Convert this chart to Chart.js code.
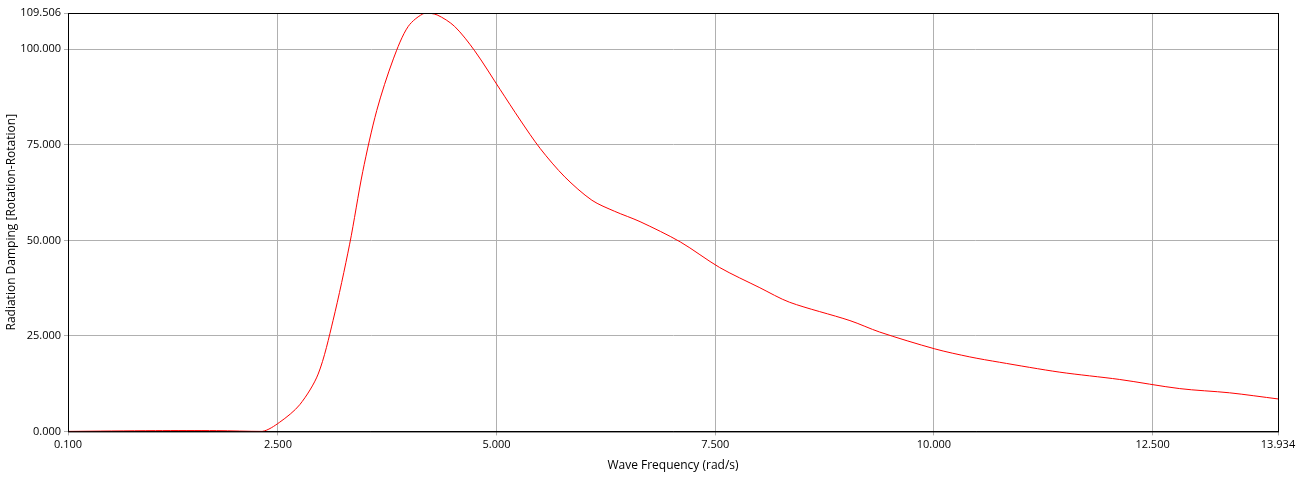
<!DOCTYPE html>
<html>
<head>
<meta charset="utf-8">
<script src="https://cdn.jsdelivr.net/npm/chart.js@4/dist/chart.umd.min.js"></script>
<style>
  html, body { margin: 0; padding: 0; background: #fff; }
  #wrap { width: 1306px; height: 477px; }
</style>
</head>
<body>
<div id="wrap"><canvas id="c"></canvas></div>
<script>
const freq = [0.1, 1.1, 1.8, 2.32, 2.52, 2.75, 2.96, 3.13, 3.32, 3.47, 3.63, 3.82, 3.99, 4.18, 4.32, 4.52, 4.75, 5.04, 5.27, 5.5, 5.78, 6.09, 6.35, 6.64, 7.1, 7.55, 8.01, 8.35, 9.04, 9.38, 10.01, 10.41, 10.75, 11.44, 12.12, 12.81, 13.38, 13.934];
const damping = [0, 0.2, 0.2, 0, 2.4, 7, 15, 29, 49, 68, 84, 97.5, 106, 109.5, 109, 106, 99.6, 89.5, 81.5, 74, 66.6, 60.5, 57.6, 54.9, 49.6, 42.9, 37.6, 33.8, 29, 26, 21.6, 19.5, 18.1, 15.5, 13.6, 11.2, 10.1, 8.5];
const xTicks = [0.1, 2.5, 5, 7.5, 10, 12.5, 13.934];
const yTicks = [0, 25, 50, 75, 100, 109.506];

const points = freq.map((f, i) => ({ x: f, y: damping[i] }));
const font = { family: "'Open Sans', 'DejaVu Sans', sans-serif", size: 11 };
const grid = { color: '#b0b0b0', borderDash: [3, 3], drawTicks: true, tickLength: 4 };

new Chart(document.getElementById('c'), {
    type: 'line',
    data: {
        datasets: [{
            data: points,
            borderColor: 'red',
            borderWidth: 1,
            pointRadius: 0,
            tension: 0.3,
            fill: false
        }]
    },
    options: {
        responsive: true,
        maintainAspectRatio: false,
        animation: false,
        layout: { padding: { top: 13, right: 28, left: 0, bottom: 0 } },
        plugins: { legend: { display: false }, tooltip: { enabled: false } },
        scales: {
            x: {
                type: 'linear',
                min: 0.1,
                max: 13.934,
                afterBuildTicks: s => { s.ticks = xTicks.map(v => ({ value: v })); },
                ticks: { color: '#000', font, maxRotation: 0, callback: v => v.toFixed(3) },
                grid,
                border: { color: '#000' },
                title: { display: true, text: 'Wave Frequency (rad/s)', color: '#000', font: { ...font, size: 12 } }
            },
            y: {
                min: 0,
                max: 109.506,
                afterBuildTicks: s => { s.ticks = yTicks.map(v => ({ value: v })); },
                afterFit: s => { s.width = 68; },
                ticks: { color: '#000', font, callback: v => v.toFixed(3) },
                grid,
                border: { color: '#000' },
                title: { display: true, text: 'Radiation Damping [Rotation-Rotation]', color: '#000', font: { ...font, size: 12 } }
            }
        }
    },
    plugins: [{
        id: 'frame',
        afterDraw(chart) {
            const { ctx, chartArea: a } = chart;
            ctx.save();
            ctx.strokeStyle = '#000';
            ctx.lineWidth = 1;
            ctx.strokeRect(a.left + 0.5, a.top + 0.5, a.right - a.left, a.bottom - a.top);
            ctx.restore();
        }
    }]
});
</script>
</body>
</html>
